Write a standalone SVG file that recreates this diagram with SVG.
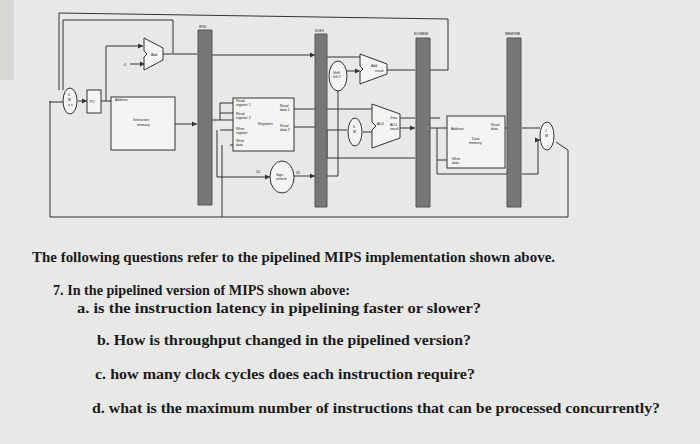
<svg xmlns="http://www.w3.org/2000/svg" width="700" height="444" viewBox="0 0 700 444">
<defs>
<marker id="a" markerWidth="6" markerHeight="6" refX="5" refY="3" orient="auto"><path d="M0,0.5 L5,3 L0,5.5z" fill="#333"/></marker>
<style>
.w{fill:none;stroke:#333;stroke-width:1}
.b{fill:#f4f4f2;stroke:#333;stroke-width:1}
.bar{fill:#777;stroke:#555}
.t{font-family:"Liberation Sans",Arial,sans-serif;font-size:3.5px;fill:#222}
.q{font-family:"Liberation Serif","Times New Roman",serif;font-size:15px;font-weight:bold;fill:#1a1a1a}
</style>
</defs>
<rect width="700" height="444" fill="#e8e8e6"/>
<rect x="0" y="0" width="14" height="80" fill="#d8d8d4"/>
<g id="connectors" class="w">
<path d="M59,90 V13 L448,19 V70 H430" />
<path d="M63,90 V20 H173 V53" />
<path d="M50,101 V102 H70 M50,101 V217 H568 V150 L556,142" />
<path d="M163,54 H197 M212,55 H315" marker-end="url(#a)"/>
<path d="M130,64 H145" marker-end="url(#a)"/>
<path d="M78,101 H87" marker-end="url(#a)"/>
<path d="M101,101 H111 M106,101 V46 H143" marker-end="url(#a)"/>
<path d="M175,124 H197" marker-end="url(#a)"/>
<path d="M212,120 L220,120 V103 H233 M220,113 H233 M220,120 H233 M220,130 H233 M217,130 V177 H270" marker-end="url(#a)"/>
<path d="M230,145 H233 M222,145 V217"/>
<path d="M294,109 H315 M294,127 H315 M294,176 H315" marker-end="url(#a)"/>
<path d="M327,57 H360 M327,109 H372 M327,130 H347 M363,132 H372 M338,90 V176 H327 M327,158 H415 M327,130 V158 M344,71 H360" marker-end="url(#a)"/>
<path d="M387,70 H415 M400,118 H415 M400,128 H415" marker-end="url(#a)"/>
<path d="M430,118 H440 M430,128 H447 M437,128 V174 H512 M437,160 H447 M505,128 H507 M522,128 H540 M522,174 H538 V140 H540" marker-end="url(#a)"/>
</g>
<g id="IFID"><polygon class="bar" points="198,30 212,30 212,205 198,205"/><text class="t" x="199" y="28">IF/ID</text></g>
<g id="IDEX"><polygon class="bar" points="315,34 327,34 327,207 315,207"/><text class="t" x="315" y="32">ID/EX</text></g>
<g id="EXMEM"><polygon class="bar" points="416,38 430,38 430,207 416,207"/><text class="t" x="414" y="35">EX/MEM</text></g>
<g id="MEMWB"><polygon class="bar" points="507,38 521,38 521,207 507,207"/><text class="t" x="505" y="35">MEM/WB</text></g>
<g id="mux1"><ellipse class="b" cx="70" cy="101" rx="7" ry="13"/><text class="t" x="68" y="96">0</text><text class="t" x="68" y="101">M</text><text class="t" x="68" y="106">u x</text></g>
<g id="pc"><rect class="b" x="87" y="90" width="14" height="23"/><text class="t" x="90" y="103">PC</text></g>
<g id="imem"><rect class="b" x="111" y="97" width="64" height="53"/><text class="t" x="115" y="101">Address</text><text class="t" x="133" y="121">Instruction</text><text class="t" x="137" y="126">memory</text></g>
<g id="add1"><polygon class="b" points="144,38 163,48 163,60 144,70 144,57 147,54 144,51"/><text class="t" x="151" y="56">Add</text></g>
<text class="t" x="124" y="66">4</text>
<g id="regs"><rect class="b" x="233" y="98" width="61" height="53"/>
<text class="t" x="236" y="102">Read</text><text class="t" x="236" y="106">register 1</text>
<text class="t" x="236" y="115">Read</text><text class="t" x="236" y="119">register 2</text>
<text class="t" x="236" y="130">Write</text><text class="t" x="236" y="134">register</text>
<text class="t" x="236" y="142">Write</text><text class="t" x="236" y="146">data</text>
<text class="t" x="258" y="125">Registers</text>
<text class="t" x="280" y="107">Read</text><text class="t" x="280" y="111">data 1</text>
<text class="t" x="280" y="127">Read</text><text class="t" x="280" y="131">data 2</text></g>
<g id="signext"><ellipse class="b" cx="282" cy="177" rx="12" ry="16"/><text class="t" x="276" y="176">Sign-</text><text class="t" x="276" y="180">extend</text><text class="t" x="256" y="173">16</text><text class="t" x="296" y="174">32</text></g>
<g id="shift"><ellipse class="b" cx="338" cy="76" rx="9" ry="15"/><text class="t" x="333" y="74">Shift</text><text class="t" x="333" y="78">left 2</text></g>
<g id="add2"><polygon class="b" points="360,54 387,64 387,74 360,84 360,72 363,69 360,66"/><text class="t" x="371" y="67">Add</text><text class="t" x="375" y="72">result</text></g>
<g id="mux2"><ellipse class="b" cx="355" cy="132" rx="7" ry="14"/><text class="t" x="353" y="128">0</text><text class="t" x="353" y="133">M</text></g>
<g id="alu"><polygon class="b" points="372,104 400,114 400,138 372,148 372,130 376,126 372,122"/><text class="t" x="377" y="125">ALU</text><text class="t" x="390" y="119">Zero</text><text class="t" x="390" y="126">ALU</text><text class="t" x="390" y="130">result</text></g>
<g id="dmem"><rect class="b" x="447" y="116" width="58" height="52"/><text class="t" x="451" y="130">Address</text><text class="t" x="491" y="126">Read</text><text class="t" x="491" y="130">data</text><text class="t" x="472" y="140">Data</text><text class="t" x="469" y="144">memory</text><text class="t" x="452" y="160">Write</text><text class="t" x="452" y="164">data</text></g>
<g id="mux3"><ellipse class="b" cx="547" cy="136" rx="7" ry="14"/><text class="t" x="545" y="132">1</text><text class="t" x="545" y="137">M</text></g>
<g id="questions">
<text class="q" x="32" y="262" textLength="523" lengthAdjust="spacingAndGlyphs">The following questions refer to the pipelined MIPS implementation shown above.</text>
<text class="q" x="53" y="295" textLength="297" lengthAdjust="spacingAndGlyphs">7.  In the pipelined version of MIPS shown above:</text>
<text class="q" x="77" y="313" textLength="404" lengthAdjust="spacingAndGlyphs">a.  is the instruction latency in pipelining faster or slower?</text>
<text class="q" x="97" y="345" textLength="374" lengthAdjust="spacingAndGlyphs">b.  How is throughput changed in the pipelined version?</text>
<text class="q" x="95" y="379" textLength="380" lengthAdjust="spacingAndGlyphs">c.  how many clock cycles does each instruction require?</text>
<text class="q" x="92" y="413" textLength="568" lengthAdjust="spacingAndGlyphs">d.  what is the maximum number of instructions that can be processed concurrently?</text>
</g>
</svg>
